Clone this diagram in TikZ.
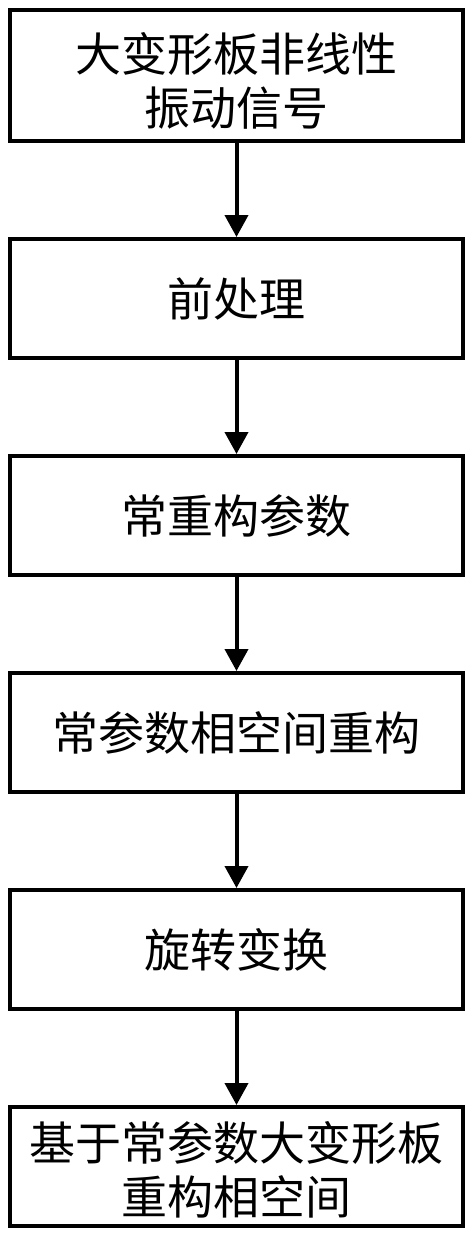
\documentclass[tikz,border=0pt]{standalone}
\usepackage{fontspec}
\newfontfamily\cjk{Noto Sans CJK SC}
\usepackage{tikz}
\usetikzlibrary{positioning,arrows.meta}

\begin{document}
\begin{tikzpicture}[x=1pt,y=1pt,
    node distance=94pt,
    every node/.style={font=\cjk\fontsize{46}{54}\selectfont},
    box/.style={draw=black, line width=4pt, minimum width=453pt,
                minimum height=119pt, inner sep=0pt, align=center},
    ar/.style={-{Triangle[width=23pt,length=22pt]}, line width=4pt}]
  \useasboundingbox (0,0) rectangle (474,-1237);
  \node[box, minimum height=131pt, text height=115pt, text depth=16pt]
    (signal) at (236.5,-75.5) {大变形板非线性\\振动信号};
  \node[box, below=of signal] (prep) {前处理};
  \node[box, below=of prep]   (param) {常重构参数};
  \node[box, below=of param]  (recon) {常参数相空间重构};
  \node[box, below=of recon]  (rot) {旋转变换};
  \node[box, below=of rot, text height=107pt, text depth=12pt]
    (result) {基于常参数大变形板\\重构相空间};
  \draw[ar] (signal) -- (prep);
  \draw[ar] (prep) -- (param);
  \draw[ar] (param) -- (recon);
  \draw[ar] (recon) -- (rot);
  \draw[ar] (rot) -- (result);
\end{tikzpicture}
\end{document}
